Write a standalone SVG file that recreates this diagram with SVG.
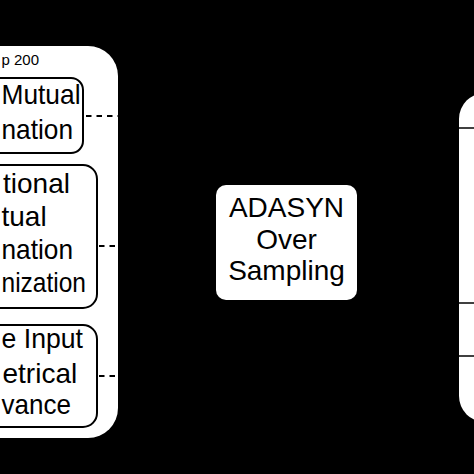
<svg xmlns="http://www.w3.org/2000/svg" width="474" height="474" viewBox="0 0 474 474">
  <style>
    .panel { fill: #ffffff; }
    .box { fill: #ffffff; stroke: #000000; stroke-width: 2; }
    .t { font-family: "Liberation Sans", Arial, Helvetica, sans-serif; font-size: 28px; fill: #000000; }
    .tm { text-anchor: middle; }
    .small { font-size: 15px; }
    .dash { stroke: #000000; stroke-width: 2; stroke-dasharray: 5.5 5; fill: none; }
    .sep { stroke: #000000; stroke-width: 1.5; fill: none; }
  </style>
  <rect x="0" y="0" width="474" height="474" fill="#000000"/>

  <g id="left-panel">
    <rect class="panel" x="-40" y="46" width="158" height="392" rx="30"/>
    <text class="t small" x="1.5" y="65">p 200</text>
  </g>

  <g id="node-mutual-information">
    <rect class="box" x="-40" y="78" width="123" height="75" rx="12"/>
    <text class="t" x="1.5" y="104" textLength="79" lengthAdjust="spacingAndGlyphs">Mutual</text>
    <text class="t" x="1.5" y="139" textLength="71.5" lengthAdjust="spacingAndGlyphs">nation</text>
  </g>

  <g id="node-cmim">
    <rect class="box" x="-40" y="165" width="137" height="143" rx="14"/>
    <text class="t" x="3" y="193">tional</text>
    <text class="t" x="1.5" y="226">tual</text>
    <text class="t" x="1.5" y="259" textLength="71.5" lengthAdjust="spacingAndGlyphs">nation</text>
    <text class="t" x="1.5" y="292" textLength="84.5" lengthAdjust="spacingAndGlyphs">nization</text>
  </g>

  <g id="node-input-relevance">
    <rect class="box" x="-40" y="325" width="137" height="102" rx="14"/>
    <text class="t" x="1.5" y="348" textLength="81.5" lengthAdjust="spacingAndGlyphs">e Input</text>
    <text class="t" x="2.5" y="383">etrical</text>
    <text class="t" x="1.5" y="414" textLength="69.5" lengthAdjust="spacingAndGlyphs">vance</text>
  </g>

  <g id="node-adasyn">
    <rect class="panel" x="216" y="185" width="141" height="115" rx="10"/>
    <text class="t tm" x="286.5" y="217">ADASYN</text>
    <text class="t tm" x="286.5" y="249">Over</text>
    <text class="t tm" x="286.5" y="280">Sampling</text>
  </g>

  <g id="right-panel">
    <rect class="panel" x="459" y="93" width="60" height="329" rx="26"/>
    <line class="sep" x1="458" y1="128" x2="474" y2="128"/>
    <line class="sep" x1="458" y1="303" x2="474" y2="303"/>
    <line class="sep" x1="458" y1="356" x2="474" y2="356"/>
  </g>

  <g id="connectors">
    <line class="dash" x1="86" y1="116" x2="118" y2="116"/>
    <line class="dash" x1="99" y1="246" x2="118" y2="246"/>
    <line class="dash" x1="99" y1="376" x2="118" y2="376"/>
  </g>
</svg>
